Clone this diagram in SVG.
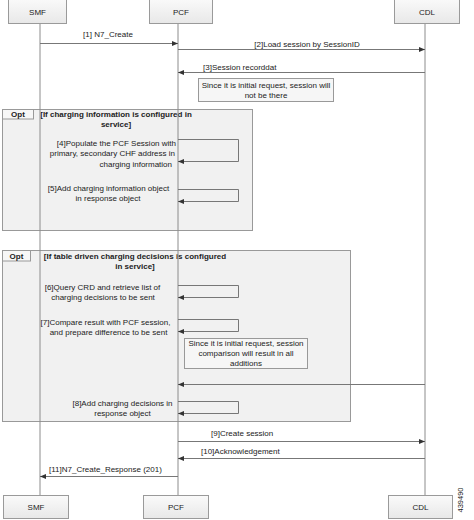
<svg xmlns="http://www.w3.org/2000/svg" width="474" height="520" viewBox="0 0 474 520">
<defs>
<marker id="ah" viewBox="0 0 6 6" refX="6" refY="3" markerWidth="6" markerHeight="6" orient="auto" markerUnits="userSpaceOnUse"><path d="M0,0.5 L6,3 L0,5.5 Z" fill="#333"/></marker>
<linearGradient id="g" x1="0" y1="0" x2="0" y2="1"><stop offset="0" stop-color="#fafafa"/><stop offset="1" stop-color="#e8e8e8"/></linearGradient>
</defs>
<style>
text{font-family:"Liberation Sans",Arial,sans-serif;font-size:8px;fill:#222}
.b{font-weight:bold}
.box{fill:url(#g);stroke:#9a9a9a;stroke-width:1}
.frame{fill:#f1f1f1;stroke:#999;stroke-width:1}
.tab{fill:#f7f7f7;stroke:#999;stroke-width:1}
.life{stroke:#8c8c8c;stroke-width:1;fill:none}
.msg{stroke:#777;stroke-width:1;fill:none;marker-end:url(#ah)}
.note{fill:#f6f6f6;stroke:#999;stroke-width:1}
</style>
<rect width="474" height="520" fill="#fff"/>

<g id="opt1">
<rect class="frame" x="2.5" y="109.5" width="250" height="121"/>
<rect class="tab" x="2.5" y="109.5" width="31" height="9.5"/>
<text class="b" x="18" y="117" text-anchor="middle">Opt</text>
<text class="b" x="116" y="117" text-anchor="middle">[If charging information is configured in</text>
<text class="b" x="116" y="127" text-anchor="middle">service]</text>
</g>
<g id="opt2">
<rect class="frame" x="2.5" y="250.5" width="348" height="171"/>
<rect class="tab" x="2.5" y="250.5" width="28" height="10.5"/>
<text class="b" x="16.5" y="258.5" text-anchor="middle">Opt</text>
<text class="b" x="135" y="258.5" text-anchor="middle">[If table driven charging decisions is configured</text>
<text class="b" x="135" y="268.5" text-anchor="middle">in service]</text>
</g>

<g id="lifelines">
<line class="life" x1="40" y1="24" x2="40" y2="495"/>
<line class="life" x1="178" y1="24" x2="178" y2="495"/>
<line class="life" x1="425" y1="24" x2="425" y2="495"/>
</g>

<g id="SMF"><rect class="box" x="8.5" y="-1.5" width="58" height="25"/><text x="37.5" y="15" text-anchor="middle">SMF</text></g>
<g id="PCF"><rect class="box" x="149.5" y="-1.5" width="63" height="25"/><text x="181" y="15" text-anchor="middle">PCF</text></g>
<g id="CDL"><rect class="box" x="394.5" y="-1.5" width="65" height="25"/><text x="427" y="15" text-anchor="middle">CDL</text></g>
<g id="SMF_bottom"><rect class="box" x="3.5" y="495.5" width="65" height="23"/><text x="36" y="510" text-anchor="middle">SMF</text></g>
<g id="PCF_bottom"><rect class="box" x="143.5" y="495.5" width="65" height="23"/><text x="176" y="510" text-anchor="middle">PCF</text></g>
<g id="CDL_bottom"><rect class="box" x="388.5" y="495.5" width="64" height="23"/><text x="420.5" y="510" text-anchor="middle">CDL</text></g>

<g id="note1">
<rect class="note" x="198.5" y="78.5" width="135" height="23"/>
<text x="266" y="87.5" text-anchor="middle">Since it is initial request, session will</text>
<text x="266" y="97.5" text-anchor="middle">not be there</text>
</g>
<g id="note2">
<rect class="note" x="184.5" y="338.5" width="123" height="30"/>
<text x="246" y="346" text-anchor="middle">Since it is initial request, session</text>
<text x="246" y="356" text-anchor="middle">comparison will result in all</text>
<text x="246" y="366" text-anchor="middle">additions</text>
</g>

<g id="connectors">
<line class="msg" x1="40" y1="43.5" x2="178" y2="43.5"/>
<line class="msg" x1="178" y1="49.5" x2="425" y2="49.5"/>
<line class="msg" x1="425" y1="72.5" x2="178" y2="72.5"/>
<polyline class="msg" points="178,139.5 238.5,139.5 238.5,161.5 178,161.5"/>
<polyline class="msg" points="178,189.5 238.5,189.5 238.5,201.5 178,201.5"/>
<polyline class="msg" points="178,285.5 238.5,285.5 238.5,297.5 178,297.5"/>
<polyline class="msg" points="178,319.5 238.5,319.5 238.5,331.5 178,331.5"/>
<line class="msg" x1="425" y1="384.5" x2="178" y2="384.5"/>
<polyline class="msg" points="178,401.5 238.5,401.5 238.5,413.5 178,413.5"/>
<line class="msg" x1="178" y1="441.5" x2="425" y2="441.5"/>
<line class="msg" x1="425" y1="458.5" x2="178" y2="458.5"/>
<line class="msg" x1="178" y1="476.5" x2="40" y2="476.5"/>
</g>

<g id="labels">
<text x="108" y="37" text-anchor="middle">[1] N7_Create</text>
<text x="307" y="47" text-anchor="middle">[2]Load session by SessionID</text>
<text x="203" y="70">[3]Session recorddat</text>
<text x="176" y="146" text-anchor="end">[4]Populate the PCF Session with</text>
<text x="175" y="156" text-anchor="end">primary, secondary CHF address in</text>
<text x="172" y="166.5" text-anchor="end">charging information</text>
<text x="108.5" y="191" text-anchor="middle">[5]Add charging information object</text>
<text x="108" y="201" text-anchor="middle">in response object</text>
<text x="102.5" y="290" text-anchor="middle">[6]Query CRD and retrieve list of</text>
<text x="103" y="300" text-anchor="middle">charging decisions to be sent</text>
<text x="105.5" y="324.5" text-anchor="middle">[7]Compare result with PCF session,</text>
<text x="108.5" y="334.5" text-anchor="middle">and prepare difference to be sent</text>
<text x="122.5" y="405.5" text-anchor="middle">[8]Add charging decisions in</text>
<text x="122.5" y="415.5" text-anchor="middle">response object</text>
<text x="211" y="436">[9]Create session</text>
<text x="201" y="454">[10]Acknowledgement</text>
<text x="49" y="472">[11]N7_Create_Response (201)</text>
</g>
<text x="463" y="500" text-anchor="middle" transform="rotate(-90 463 500)" style="font-size:7.5px">439490</text>
</svg>
